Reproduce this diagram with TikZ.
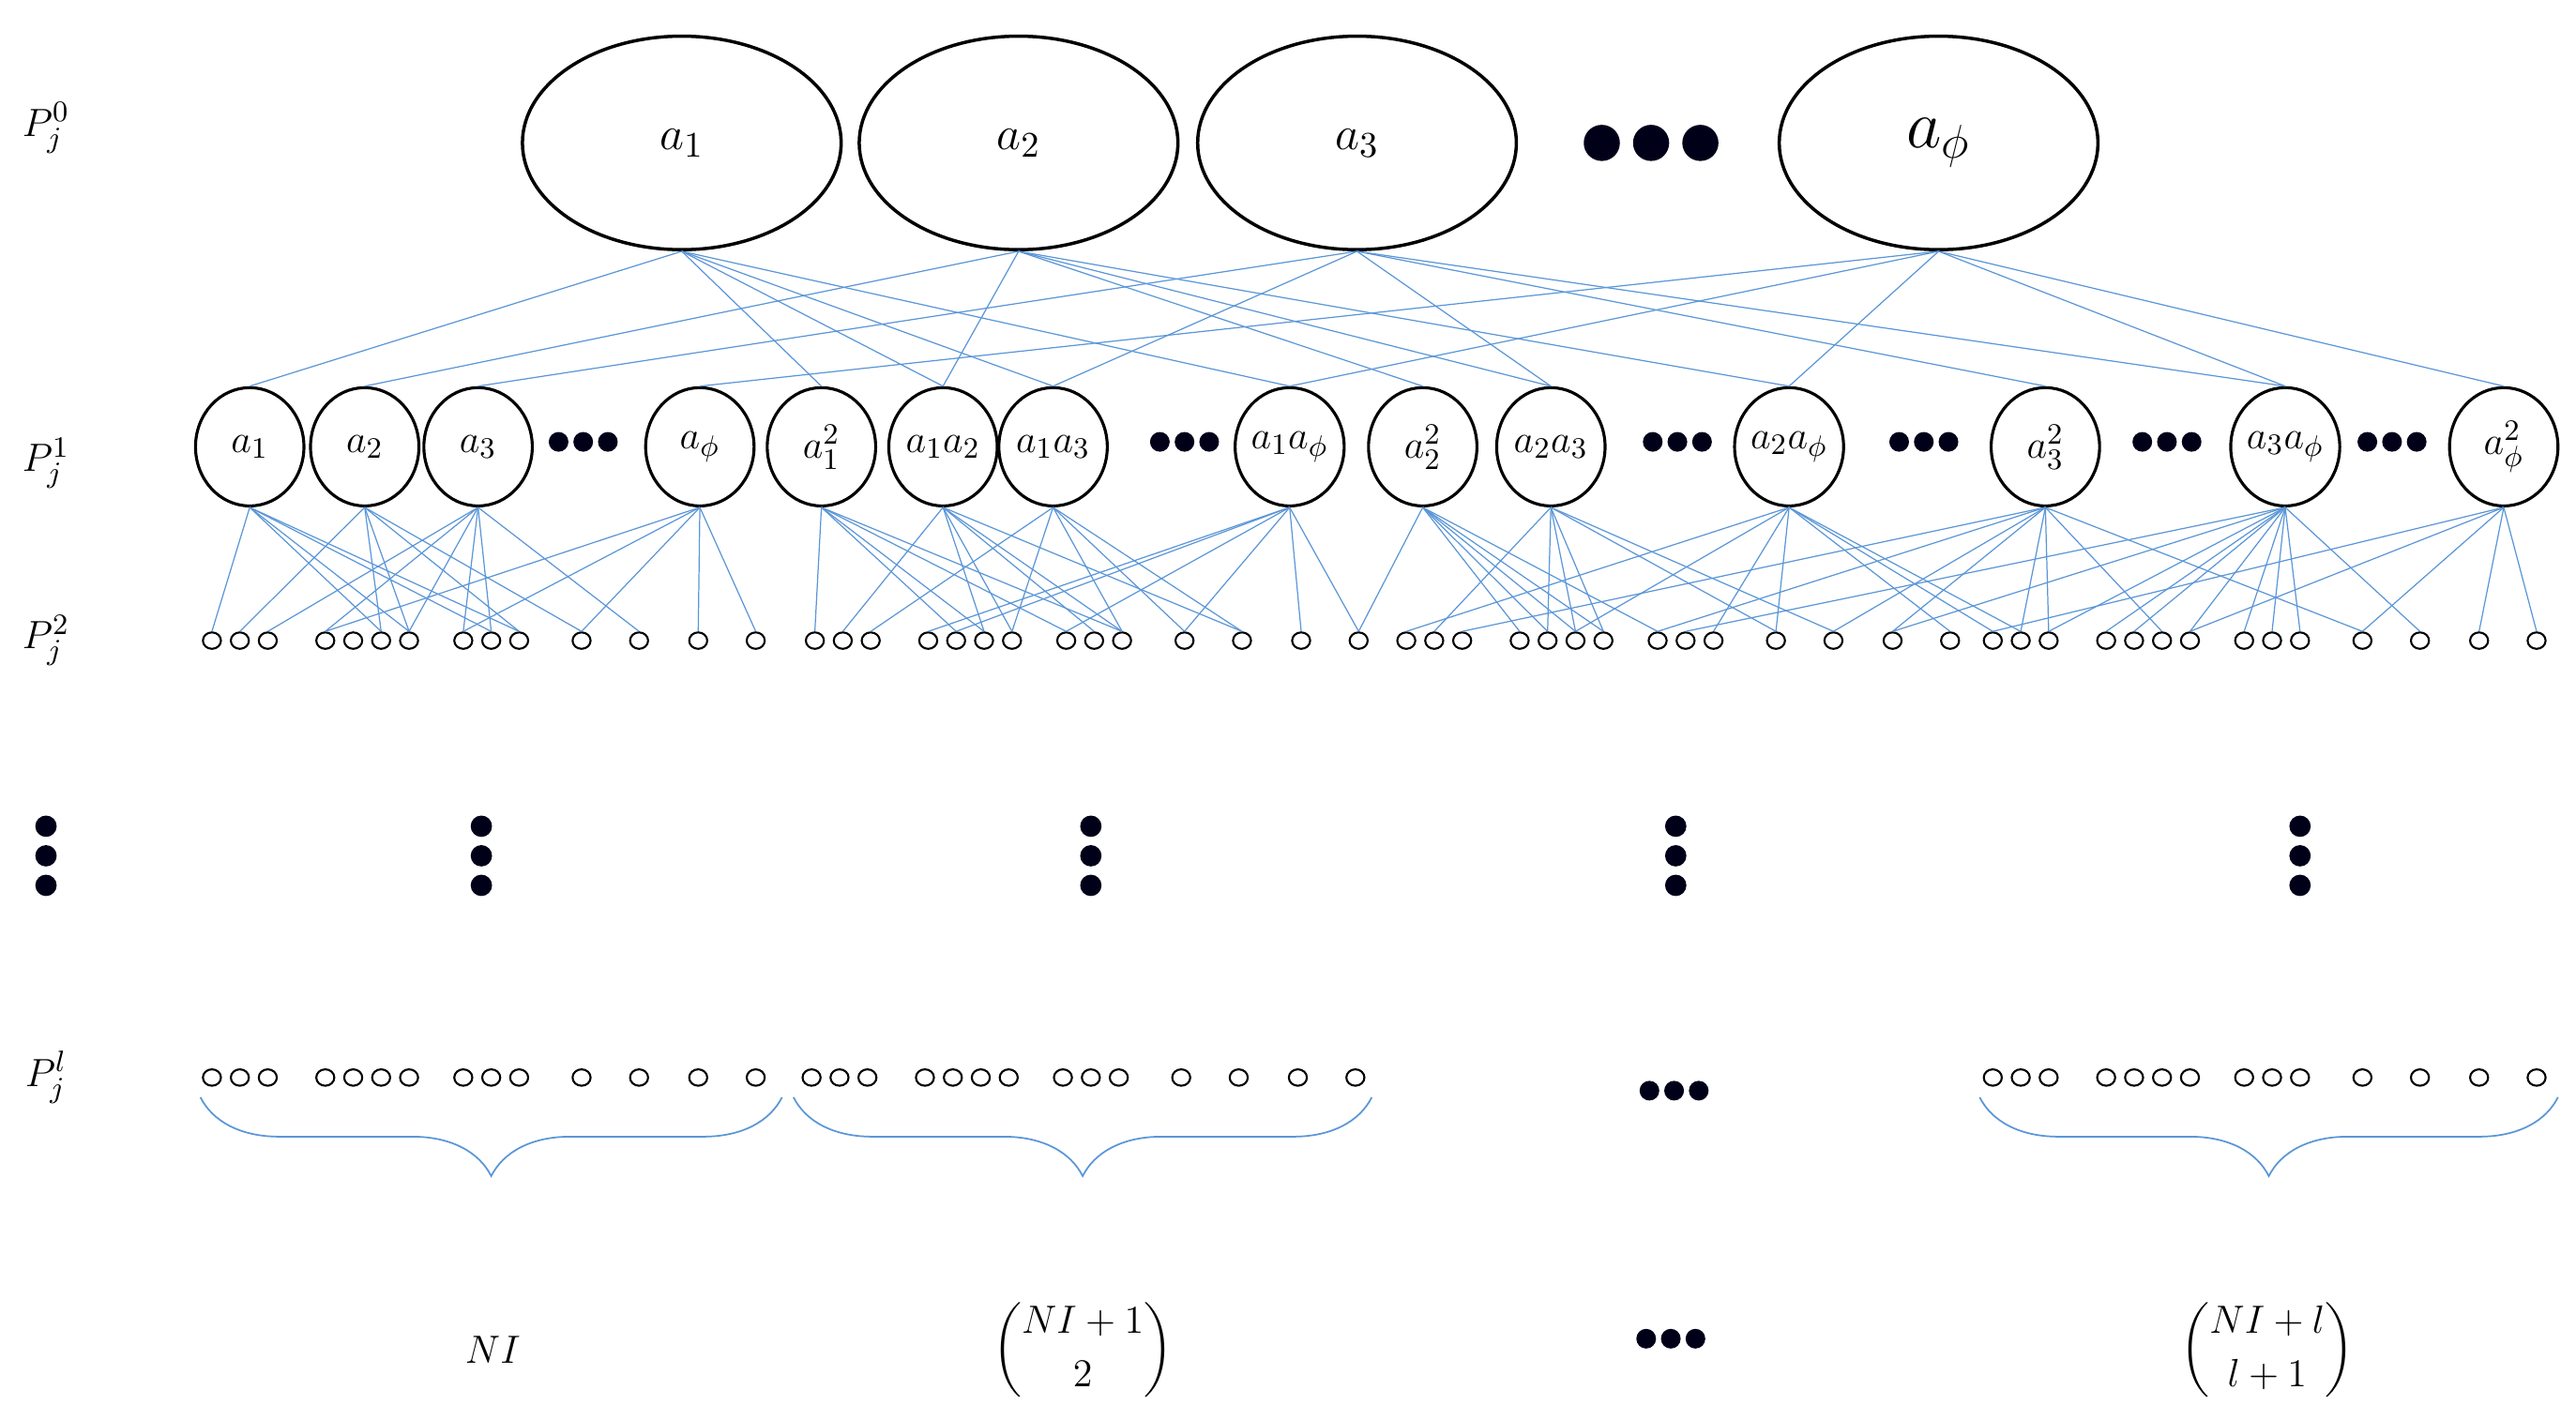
\documentclass[tikz,border=0pt]{standalone}
\usepackage{amsmath}
\usetikzlibrary{shapes.geometric,decorations.pathreplacing}
\definecolor{link}{RGB}{91,150,215}
\begin{document}
\begin{tikzpicture}[x=0.5pt,y=-0.5pt,
  big/.style={draw,ellipse,line width=1pt,minimum width=97pt,minimum height=65pt,inner sep=0pt,font=\fontsize{15}{18}\selectfont},
  mid/.style={draw,ellipse,line width=0.9pt,minimum width=33pt,minimum height=36pt,inner sep=0pt,font=\fontsize{13}{15}\selectfont},
  tiny/.style={draw,ellipse,line width=0.6pt,minimum width=5.5pt,minimum height=5pt,inner sep=0pt},
  lab/.style={font=\fontsize{13}{15}\selectfont},
  dot/.style={fill=black!90!blue,circle,inner sep=0pt,minimum size=#1},
  lk/.style={draw=link,line width=0.35pt},
  br/.style={draw=link,line width=0.5pt,decorate,decoration={brace,mirror,amplitude=24pt}}]
\useasboundingbox (0,0) rectangle (1568,864);
% left labels
\node[lab] (l0) at (28,78) {$P_j^0$};
\node[lab] (l1) at (28,282) {$P_j^1$};
\node[lab] (l2) at (28,390) {$P_j^2$};
\node[lab] (ll) at (28,656) {$P_j^l$};
% level 0
\node[big] (A1) at (415,87) {$a_1$};
\node[big] (A2) at (620,87) {$a_2$};
\node[big] (A3) at (826,87) {$a_3$};
\node[big,font=\fontsize{20}{24}\selectfont] (Af) at (1180,87) {$a_\phi$};
\foreach \x in {975,1005,1035} \node[dot=11pt] at (\x,87) {};
% level 1
\foreach \n/\x/\t in {p1/152/a_1,p2/222/a_2,p3/291/a_3,pf/426/a_\phi,p11/500/a_1^2,p12/574/a_1a_2,p13/641/a_1a_3,p1f/785/a_1a_\phi,p22/866/a_2^2,p23/944/a_2a_3,p2f/1089/a_2a_\phi,p33/1245/a_3^2,p3f/1391/a_3a_\phi,pff/1524/a_\phi^2}
  \node[mid] (\n) at (\x,272) {$\t$};
\foreach \x in {340,355,370,706,721,736,1006,1021,1036,1156,1171,1186,1304,1319,1334,1441,1456,1471}
  \node[dot=6pt] at (\x,269) {};
% level 0 -> level 1
\foreach \a/\b in {A1/p1,A1/p11,A1/p12,A1/p13,A1/p1f,A2/p2,A2/p12,A2/p22,A2/p23,A2/p2f,
  A3/p3,A3/p13,A3/p23,A3/p33,A3/p3f,Af/pf,Af/p1f,Af/p2f,Af/p3f,Af/pff}
  \draw[lk] (\a.south) -- (\b.north);
% level 2 and level l
\foreach \g/\s in {0/129,1/496,2/856,3/1213}
  \foreach \k/\d in {1/0,2/17,3/34,4/69,5/86,6/103,7/120,8/153,9/170,10/187,11/225,12/260,13/296,14/331}{
    \pgfmathtruncatemacro\i{14*\g+\k}
    \node[tiny] (c\i) at (\s+\d,390) {};
  }
\foreach \g/\s in {0/129,1/494,3/1213}
  \foreach \k/\d in {1/0,2/17,3/34,4/69,5/86,6/103,7/120,8/153,9/170,10/187,11/225,12/260,13/296,14/331}{
    \pgfmathtruncatemacro\i{14*\g+\k}
    \node[tiny] (q\i) at (\s+\d,656) {};
  }
\foreach \x in {1004,1019,1034} \node[dot=6pt] at (\x,664) {};
% level 1 -> level 2
\foreach \n/\L in {p1/{1,6,7,9,10},p2/{2,6,7,10,11},p3/{3,4,7,8,9,12},pf/{4,8,11,13,14},
  p11/{15,19,20,22,24},p12/{16,20,21,23,24,26},p13/{17,21,24,25,26},p1f/{18,19,22,25,27,28},
  p22/{28,32,33,34,35,36},p23/{30,33,34,35,39,40},p2f/{29,34,38,39,42,43,44},
  p33/{31,36,40,41,44,45,48,53},p3f/{37,41,45,46,47,49,50,51,52,54},pff/{43,49,53,55,56}}
  \foreach \c in \L \draw[lk] (\n.south) -- (c\c.north);
% vertical dots
\foreach \x in {28,293,664,1020,1400}
  \foreach \y in {503,521,539} \node[dot=6.5pt] at (\x,\y) {};
% braces
\coordinate (b1) at (122,668); \coordinate (b2) at (476,668);
\coordinate (b3) at (483,668); \coordinate (b4) at (835,668);
\coordinate (b5) at (1205,668); \coordinate (b6) at (1557,668);
\draw[br] (b1) -- (b2);
\draw[br] (b3) -- (b4);
\draw[br] (b5) -- (b6);
% bottom labels
\node[lab] (n1) at (300,822) {$NI$};
\node[lab] (n2) at (659,822) {$\dbinom{NI+1}{2}$};
\foreach \x in {1002,1017,1032} \node[dot=6pt] at (\x,815) {};
\node[lab] (n3) at (1380,822) {$\dbinom{NI+l}{l+1}$};
\end{tikzpicture}
\end{document}
